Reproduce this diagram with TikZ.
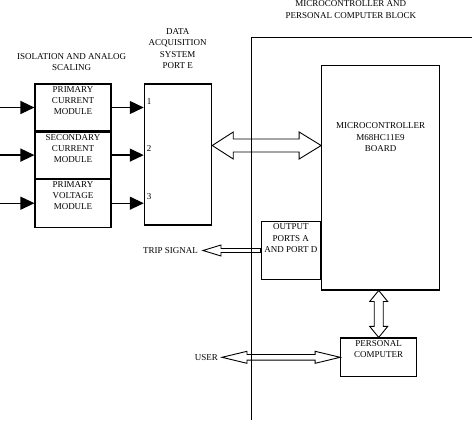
\documentclass[tikz,border=0pt]{standalone}
\usepackage{fontspec}
\setmainfont{Liberation Serif}
\usetikzlibrary{arrows.meta, positioning, calc}

\tikzset{
  box/.style={draw, line width=1.1pt, inner sep=0pt},
  toptext/.style={anchor=north, align=center, inner sep=1pt, yshift=-1.5pt, font=\fontsize{9}{11.3}\selectfont},
  title/.style={align=center, font=\fontsize{9}{11.2}\selectfont},
  feed/.style={-{Triangle[length=14pt,width=13pt]}, line width=1.3pt},
  hollow/.style={draw, fill=white, line width=0.9pt, line join=miter},
}

\begin{document}
\begin{tikzpicture}[x=1pt,y=-1pt]
        \useasboundingbox (0,0) rectangle (474,440);

        % 見出し
        \node[title] (isotitle) at (71.7,62) {ISOLATION AND ANALOG\\SCALING};
        \node[title] (daqtitle) at (177.7,48.5) {DATA\\ACQUISITION\\SYSTEM\\PORT E};
        \node[title] (blocktitle) at (350.8,9.5) {MICROCONTROLLER AND\\PERSONAL COMPUTER BLOCK};

        % 絶縁・スケーリングのモジュール
        \node[box, minimum width=76, minimum height=47, label={[toptext]north:PRIMARY\\CURRENT\\MODULE}] (iso1) at (73,107.5) {};
        \node[box, minimum width=76, minimum height=46, below=0pt of iso1, label={[toptext]north:SECONDARY\\CURRENT\\MODULE}] (iso2) {};
        \node[box, minimum width=76, minimum height=48, below=0pt of iso2, label={[toptext]north:PRIMARY\\VOLTAGE\\MODULE}] (iso3) {};

        % データ収集 (ポートE)
        \node[box, minimum width=67.4, minimum height=141] (daq) at (178,154.5) {};

        % マイコンボード
        \node[box, minimum width=117.6, minimum height=224.3, label={[toptext, yshift=-55pt]north:MICROCONTROLLER\\M68HC11E9\\BOARD}] (micro) at (380.5,177.8) {};
        \node[box, minimum width=59.5, minimum height=57.3, anchor=east, label={[toptext]north:OUTPUT\\PORTS A\\AND PORT D}] (outp) at (micro.west |- 0,250.5) {};
        \node[box, minimum width=76, minimum height=38.7, label={[toptext]north:PERSONAL\\COMPUTER}] (pc) at (378.7,357.3) {};

        % 入力
        \coordinate (in1) at (iso1.west -| 0,0);
        \coordinate (in2) at (iso2.west -| 0,0);
        \coordinate (in3) at (iso3.west -| 0,0);
        \draw[feed] (in1) -- (iso1.west);
        \draw[feed] (in2) -- (iso2.west);
        \draw[feed] (in3) -- (iso3.west);

        % モジュール -> ポートE
        \draw[feed] (iso1.east) -- (iso1.east -| daq.west) node[title, anchor=south west, inner sep=2.5pt] (port1) {1};
        \draw[feed] (iso2.east) -- (iso2.east -| daq.west) node[title, anchor=south west, inner sep=2.5pt] (port2) {2};
        \draw[feed] (iso3.east) -- (iso3.east -| daq.west) node[title, anchor=south west, inner sep=2.5pt] (port3) {3};

        % ポートE <-> マイコン (太い双方向矢印)
        \coordinate (busl) at (daq.east |- 0,145.5);
        \coordinate (busr) at (micro.west |- 0,145.5);
        \draw[hollow] let \p1=(busl), \p2=(busr) in
            (\p1) -- (\x1+21pt,\y1+13.5pt) -- (\x1+21pt,\y1+6.5pt) -- (\x2-22pt,\y1+6.5pt) -- (\x2-22pt,\y1+13.5pt) -- (\p2)
            -- (\x2-22pt,\y1-13.5pt) -- (\x2-22pt,\y1-6.5pt) -- (\x1+21pt,\y1-6.5pt) -- (\x1+21pt,\y1-13.5pt) -- cycle;

        % トリップ信号
        \node[title, anchor=east, inner sep=5pt] (trip) at (outp.west -| 203,0) {TRIP SIGNAL};
        \draw[hollow] let \p1=(trip.east), \p2=(outp.west) in
            (\p1) -- (\x1+18pt,\y1+5.5pt) -- (\x1+18pt,\y1+2pt) -- (\x2,\y1+2pt) -- (\x2,\y1-2pt) -- (\x1+18pt,\y1-2pt) -- (\x1+18pt,\y1-5.5pt) -- cycle;

        % マイコン <-> PC
        \coordinate (mcbot) at (pc.north |- micro.south);
        \draw[hollow] let \p1=(mcbot), \p2=(pc.north) in
            (\p1) -- (\x1+9pt,\y1-11pt) -- (\x1+4.5pt,\y1-11pt) -- (\x1+4.5pt,\y2+11pt) -- (\x1+9pt,\y2+11pt) -- (\p2)
            -- (\x1-9pt,\y2+11pt) -- (\x1-4.5pt,\y2+11pt) -- (\x1-4.5pt,\y1-11pt) -- (\x1-9pt,\y1-11pt) -- cycle;

        % ユーザ
        \node[title, anchor=east, inner sep=4pt] (user) at (pc.west -| 222,0) {USER};
        \draw[hollow] let \p1=(user.east), \p2=(pc.west) in
            (\p1) -- (\x1+25pt,\y1+6pt) -- (\x1+25pt,\y1+2.8pt) -- (\x2-25pt,\y1+2.8pt) -- (\x2-25pt,\y1+6pt) -- (\p2)
            -- (\x2-25pt,\y1-6pt) -- (\x2-25pt,\y1-2.8pt) -- (\x1+25pt,\y1-2.8pt) -- (\x1+25pt,\y1-6pt) -- cycle;

        % マイコン・PCブロックの枠
        \draw[line width=1.1pt] (251.5,420) -- (251.5,37.7) -- (472,37.7);

    \end{tikzpicture}
\end{document}
